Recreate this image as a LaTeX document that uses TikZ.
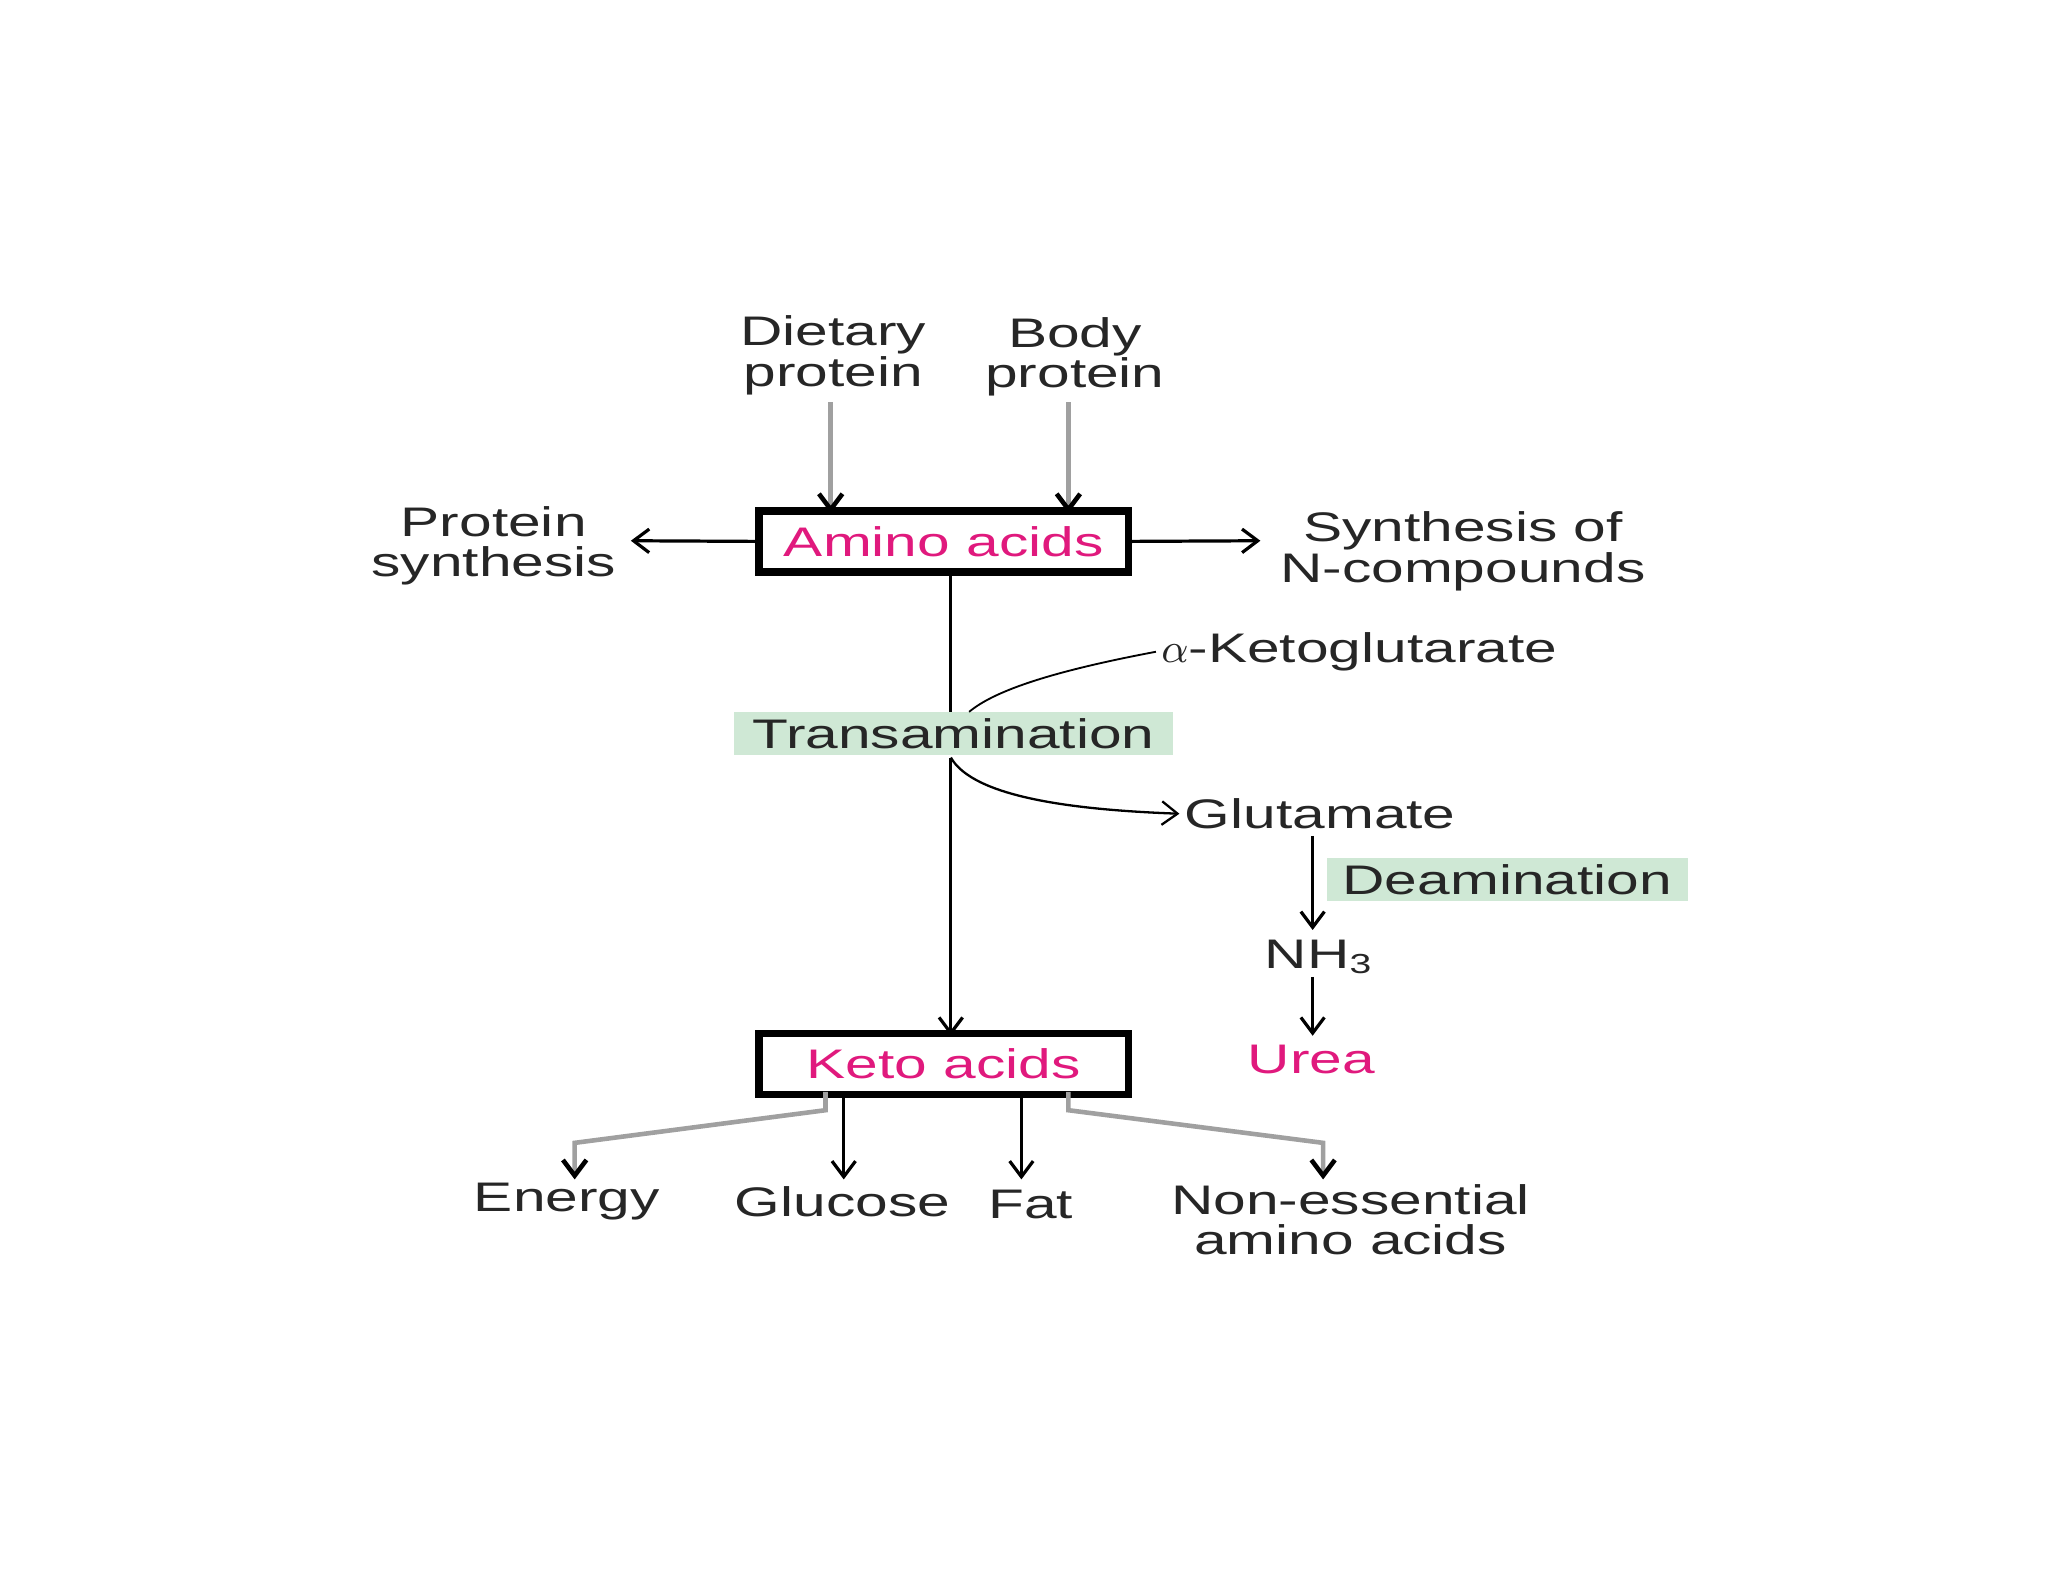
\documentclass[tikz,border=0pt]{standalone}
\usepackage{fontspec}
\setmainfont{Liberation Sans}[FakeStretch=1.42]
\usetikzlibrary{arrows.meta}
\definecolor{pinkt}{HTML}{E0197D}
\definecolor{greenb}{HTML}{CFE8D5}
\definecolor{grayl}{HTML}{A0A0A0}
\tikzset{
 lbl/.style={font=\fontsize{9}{8.8}\selectfont, text=black!85, align=center, inner sep=1pt},
 bigbox/.style={draw=black, line width=1.6pt, minimum width=283*0.1mm, minimum height=43*0.1mm, text=pinkt, font=\fontsize{9}{12}\selectfont},
 gbox/.style={fill=greenb, font=\fontsize{9}{12}\selectfont, text=black!85, inner sep=0pt},
 arr/.style={-{Straight Barb[length=1.2mm,width=1.8mm]}, line width=0.7pt},
 garr/.style={-{Straight Barb[length=1.2mm,width=1.8mm,color=black]}, draw=grayl, line width=1pt},
}
\begin{document}
\begin{tikzpicture}[x=0.1mm,y=-0.1mm]
\useasboundingbox (0,0) rectangle (1568,1211);
\node[lbl] (diet) at (638,272) {Dietary\\protein};
\node[lbl] (body) at (823,273) {Body\\protein};
\node[bigbox] (amino) at (722.5,414.5) {Amino acids};
\node[lbl] (psyn) at (378,418) {Protein\\synthesis};
\node[lbl] (nsyn) at (1120,422) {Synthesis of\\N-compounds};
\node[gbox, minimum width=336*0.1mm, minimum height=33*0.1mm] (trans) at (730,561.5) {Transamination};
\node[lbl, anchor=west] (akg) at (885,499) {$\alpha$-Ketoglutarate};
\node[lbl, anchor=west] (glu) at (903,623) {Glutamate};
\node[gbox, minimum width=276*0.1mm, minimum height=33*0.1mm] (deam) at (1154,673.5) {Deamination};
\node[lbl] (nh3) at (1010,733) {NH\textsubscript{3}};
\node[lbl, text=pinkt] (urea) at (1004,811) {Urea};
\node[bigbox] (keto) at (722.5,814.5) {Keto acids};
\node[lbl] (energy) at (434,920) {Energy};
\node[lbl] (glc) at (645,920) {Glucose};
\node[lbl] (fat) at (789,922) {Fat};
\node[lbl] (nea) at (1034,934) {Non-essential\\amino acids};
\coordinate (t1) at (728,545);
\coordinate (t2) at (728,580);

\draw[garr] (636,308) -- (636,393);
\draw[garr] (818,308) -- (818,393);
\draw[arr] (amino.west) -- (483,414);
\draw[arr] (amino.east) -- (965,414);
\draw[line width=0.7pt] (728,436) -- (t1);
\draw[arr] (t2) -- (728,793);
\draw (akg.west) .. controls (800,515) and (760,530) .. (742,545);
\draw[arr, line width=0.5pt] (t2) .. controls (745,610) and (820,620) .. (glu.west);
\draw[arr] (1005,640) -- (1005,712);
\draw[arr] (1005,748) -- (1005,793);
\draw[garr] (632,836) -- (632,850) -- (440,875) -- (440,903);
\draw[arr] (646,836) -- (646,903);
\draw[arr] (782,836) -- (782,903);
\draw[garr] (818,836) -- (818,850) -- (1013,875) -- (1013,903);
\end{tikzpicture}
\end{document}
